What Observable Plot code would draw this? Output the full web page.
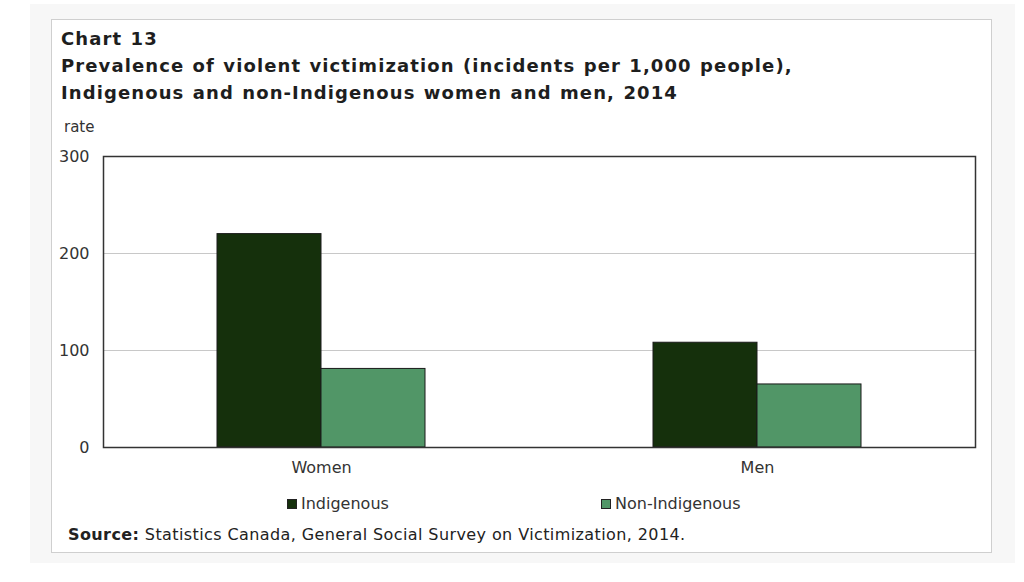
<!DOCTYPE html>
<html>
<head>
<meta charset="utf-8">
<script src="https://cdn.jsdelivr.net/npm/d3@7"></script>
<script src="https://cdn.jsdelivr.net/npm/@observablehq/plot@0.6"></script>
<style>
  html, body { margin: 0; padding: 0; background: #ffffff; width: 1024px; height: 582px; overflow: hidden; }
  #outer { position: absolute; left: 30px; top: 4px; width: 985px; height: 559px; background: #f7f7f7; }
  #panel { position: absolute; left: 51px; top: 19px; width: 939px; height: 532px; background: #fff; border: 1px solid #cfcfcf; font-family: "DejaVu Sans", Verdana, sans-serif; color: #222; }
  #title { position: absolute; left: 9px; top: 5px; font-weight: bold; font-size: 18px; line-height: 27px; letter-spacing: 1.1px; word-spacing: 1px; color: #1e1e1e; white-space: nowrap; }
  #rate { position: absolute; left: 12px; top: 98px; font-size: 15px; color: #333; }
  #chart { position: absolute; left: 0px; top: 124px; }
  #legend { position: absolute; top: 474px; left: 0; width: 939px; height: 20px; font-size: 16px; color: #333; }
  .item { position: absolute; display: flex; align-items: center; white-space: nowrap; }
  .sw { width: 8px; height: 8px; border: 1px solid #222; margin-right: 4px; }
  #source { position: absolute; left: 16px; top: 505px; font-size: 16px; letter-spacing: 0.4px; color: #222; white-space: nowrap; }
</style>
</head>
<body>
<div id="outer"></div>
<div id="panel">
  <div id="title">Chart 13<br>Prevalence of violent victimization (incidents per 1,000 people),<br>Indigenous and non-Indigenous women and men, 2014</div>
  <div id="rate">rate</div>
  <div id="chart"></div>
  <div id="legend"></div>
  <div id="source"><b>Source:</b> Statistics Canada, General Social Survey on Victimization, 2014.</div>
</div>
<script>
const sexes = ["Women", "Men"];
const groups = ["Indigenous", "Non-Indigenous"];
const indigenousRates = [220, 108];
const nonIndigenousRates = [81, 65];
const yTicks = [0, 100, 200, 300];
const gridValues = [100, 200];
const groupColors = ["#15300c", "#519667"];

const data = sexes.flatMap((s, i) => [
  {sex: s, group: groups[0], rate: indigenousRates[i]},
  {sex: s, group: groups[1], rate: nonIndigenousRates[i]}
]);

const chart = Plot.plot({
  width: 939,
  height: 338,
  marginLeft: 51,
  marginRight: 16,
  marginTop: 12,
  marginBottom: 35,
  style: {fontFamily: "DejaVu Sans, Verdana, sans-serif", fontSize: "16px", color: "#333", background: "transparent", overflow: "visible"},
  fx: {domain: sexes, padding: 0, label: null, tickSize: 0, tickPadding: 14},
  x: {domain: groups, paddingInner: 0, paddingOuter: 1.086, axis: null},
  y: {domain: [0, 300], ticks: yTicks, tickSize: 0, tickPadding: 14, label: null},
  color: {domain: groups, range: groupColors},
  marks: [
    Plot.ruleY(gridValues, {stroke: "#c8c8c8", strokeWidth: 1}),
    Plot.barY(data, {fx: "sex", x: "group", y: "rate", fill: "group", stroke: "#1a1a1a", strokeWidth: 1}),
    Plot.frame({stroke: "#333", strokeWidth: 1.5, facet: "super"})
  ]
});
document.getElementById("chart").appendChild(chart);

// legend
const legend = document.getElementById("legend");
const legendLeft = [235, 549];
groups.forEach((g, i) => {
  const item = document.createElement("div");
  item.className = "item";
  item.style.left = legendLeft[i] + "px";
  const sw = document.createElement("span");
  sw.className = "sw";
  sw.style.background = groupColors[i];
  const t = document.createElement("span");
  t.textContent = g;
  item.appendChild(sw);
  item.appendChild(t);
  legend.appendChild(item);
});
</script>
</body>
</html>
